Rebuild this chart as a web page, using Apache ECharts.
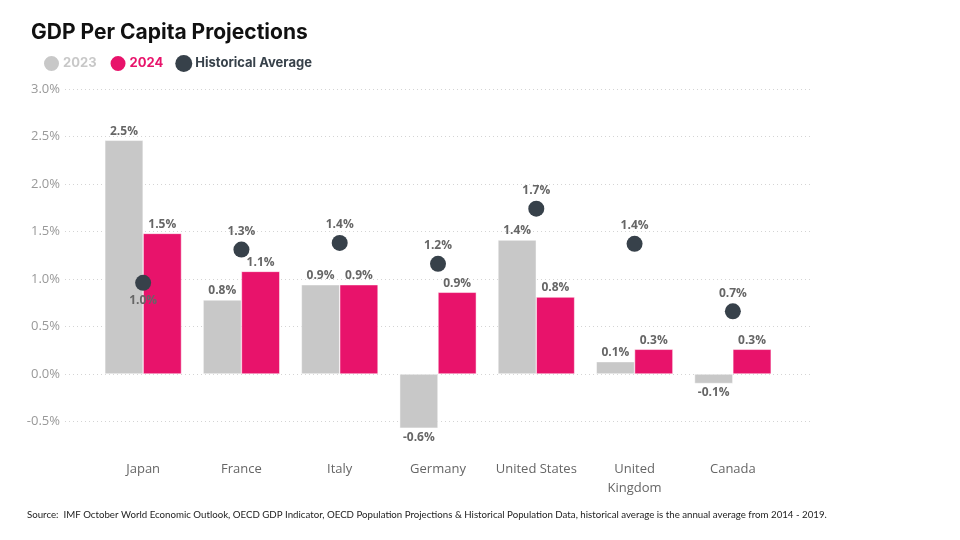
<!DOCTYPE html>
<html>
<head>
<meta charset="utf-8">
<script src="https://cdn.jsdelivr.net/npm/echarts@6/dist/echarts.min.js"></script>
<style>
html,body{margin:0;padding:0;background:#fff;}
#chart{width:960px;height:540px;}
</style>
</head>
<body>
<div id="chart"></div>
<script>
// 数据
var countries = ['Japan', 'France', 'Italy', 'Germany', 'United States', 'United\nKingdom', 'Canada'];
var gdp2023 = [2.46, 0.78, 0.94, -0.57, 1.41, 0.13, -0.10];
var gdp2024 = [1.48, 1.08, 0.94, 0.86, 0.81, 0.26, 0.26];
var histAvg = [0.96, 1.31, 1.38, 1.16, 1.74, 1.37, 0.66];
var yTicks = [-1.0, -0.5, 0.0, 0.5, 1.0, 1.5, 2.0, 2.5, 3.0];

var grey = '#c8c8c8';
var pink = '#e8136b';
var dark = '#37414a';
var labelFont = 'Open Sans';

function pct(v){
	return v.toFixed(1) + '%';
}

// 负值标签放在柱子下方
function barData(arr){
	return arr.map(function(v){
		return {value: v, label: {position: v < 0 ? 'bottom' : 'top'}};
	});
}

var chart = echarts.init(document.getElementById('chart'));
var option = {
	animation: false,
	title: {
		text: 'GDP Per Capita Projections',
		left: 26,
		top: 17,
		textStyle: {
			fontFamily: 'Inter',
			fontWeight: 'bold',
			fontSize: 21,
			color: '#111'
		}
	},
	legend: {
		left: 37,
		top: 49,
		icon: 'circle',
		itemWidth: 17,
		itemHeight: 17,
		itemGap: 12,
		textStyle: {
			fontFamily: 'Inter',
			fontWeight: 'bold',
			fontSize: 13,
			padding: [0, 0, 0, -2]
		},
		data: [
			{name: '2023', textStyle: {color: grey}},
			{name: '2024', textStyle: {color: pink}},
			{name: 'Historical Average', textStyle: {color: dark}}
		]
	},
	graphic: [{
		type: 'text',
		left: 27,
		top: 510,
		style: {
			text: 'Source:  IMF October World Economic Outlook, OECD GDP Indicator, OECD Population Projections & Historical Population Data, historical average is the annual average from 2014 - 2019.',
			font: '9.7px Lato',
			fill: '#222'
		}
	}],
	grid: [
		// 柱状图区域
		{left: 94, right: 178, top: 89, bottom: 71},
		// 网格线区域（更宽）
		{left: 65, right: 149, top: 89, bottom: 71}
	],
	xAxis: [
		{
			gridIndex: 0,
			type: 'category',
			data: countries,
			offset: -15,
			axisLine: {show: false},
			axisTick: {show: false},
			axisLabel: {
				interval: 0,
				margin: 6,
				fontFamily: labelFont,
				fontSize: 13,
				color: '#666',
				lineHeight: 19
			}
		},
		{
			gridIndex: 1,
			type: 'value',
			show: false
		}
	],
	yAxis: [
		{
			gridIndex: 0,
			type: 'value',
			min: -1.0,
			max: 3.0,
			interval: 0.5,
			axisLine: {show: false},
			axisTick: {show: false},
			axisLabel: {show: false},
			splitLine: {show: false}
		},
		{
			gridIndex: 1,
			type: 'value',
			min: yTicks[0],
			max: yTicks[yTicks.length - 1],
			interval: 0.5,
			axisLine: {show: false},
			axisTick: {show: false},
			axisLabel: {
				margin: 5,
				fontFamily: labelFont,
				fontSize: 13,
				color: '#999',
				formatter: function(v){
					return v <= -1 ? '' : pct(v);
				}
			},
			splitLine: {
				lineStyle: {
					type: [1, 3],
					width: 1,
					color: ['rgba(0,0,0,0)', '#d4d4d4', '#d4d4d4', '#d4d4d4', '#d4d4d4', '#d4d4d4', '#d4d4d4', '#d4d4d4', '#d4d4d4']
				}
			}
		}
	],
	series: [
		{
			name: '2023',
			type: 'bar',
			xAxisIndex: 0,
			yAxisIndex: 0,
			data: barData(gdp2023),
			barGap: '0%',
			barCategoryGap: '22%',
			itemStyle: {color: grey, borderColor: '#fff', borderWidth: 0.5},
			label: {
				show: true,
				distance: 3,
				fontFamily: labelFont,
				fontWeight: 'bold',
				fontSize: 12,
				color: '#666',
				formatter: function(p){ return pct(p.value); }
			}
		},
		{
			name: '2024',
			type: 'bar',
			xAxisIndex: 0,
			yAxisIndex: 0,
			data: barData(gdp2024),
			itemStyle: {color: pink, borderColor: '#fff', borderWidth: 0.5},
			label: {
				show: true,
				distance: 3,
				fontFamily: labelFont,
				fontWeight: 'bold',
				fontSize: 12,
				color: '#666',
				formatter: function(p){ return pct(p.value); }
			}
		},
		{
			name: 'Historical Average',
			type: 'scatter',
			xAxisIndex: 0,
			yAxisIndex: 0,
			symbolSize: 16,
			z: 5,
			itemStyle: {color: dark, opacity: 1},
			data: histAvg.map(function(v, i){
				return {value: v, label: {position: i === 0 ? 'bottom' : 'top'}};
			}),
			label: {
				show: true,
				distance: 4,
				fontFamily: labelFont,
				fontWeight: 'bold',
				fontSize: 12,
				color: '#666',
				formatter: function(p){ return pct(p.value); }
			}
		}
	]
};
chart.setOption(option);
</script>
</body>
</html>
